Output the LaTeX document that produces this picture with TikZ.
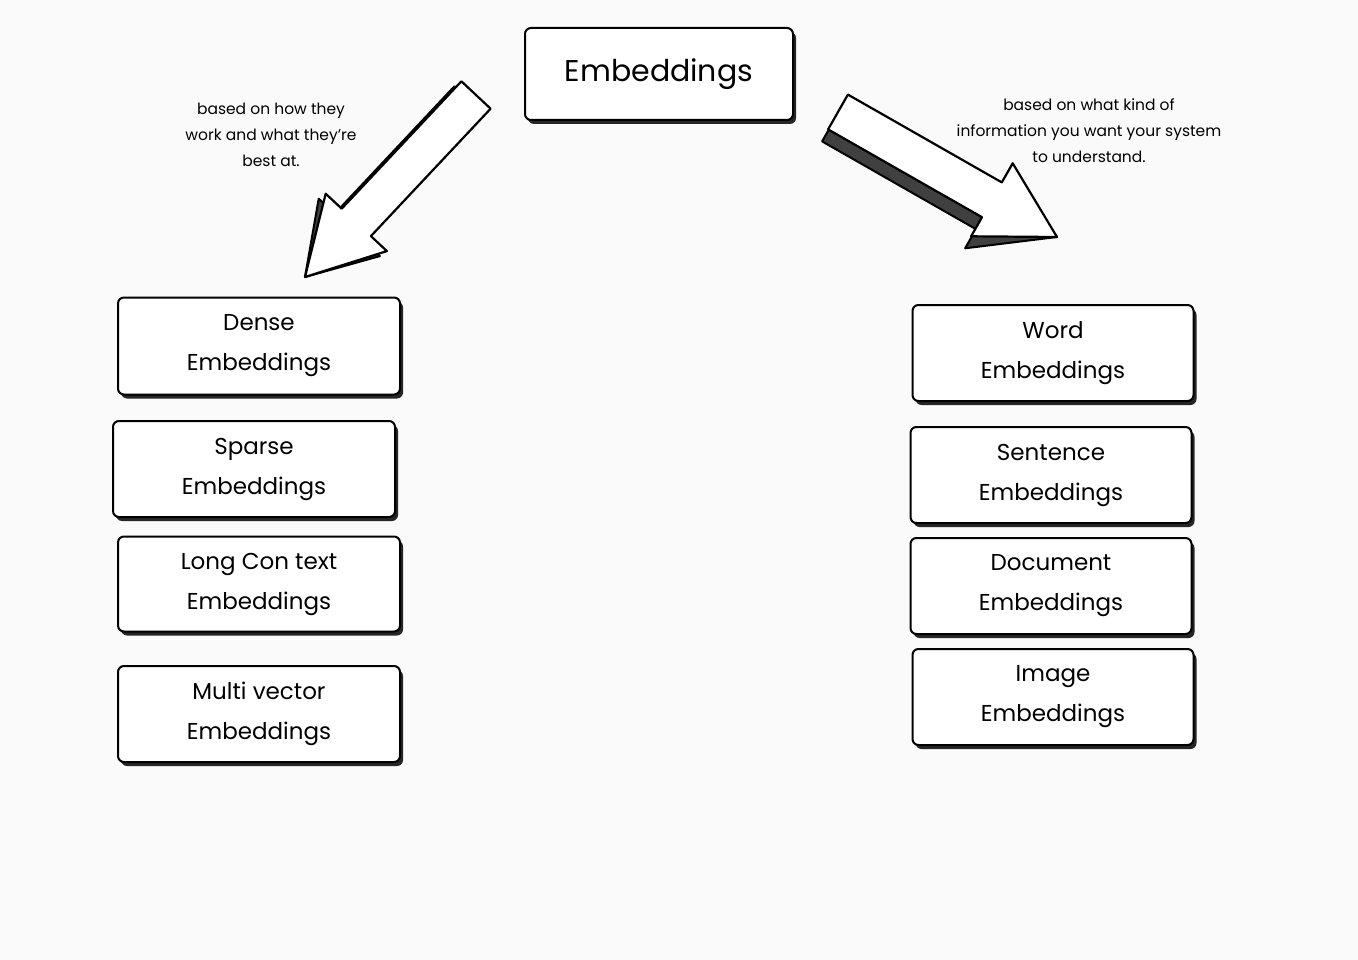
\documentclass[tikz,border=0pt]{standalone}
\usepackage{fontspec}
\setmainfont{Poppins}
\usetikzlibrary{shadows}
\begin{document}
\begin{tikzpicture}[x=1pt,y=-1pt,
  box/.style={draw=black,line width=2pt,rounded corners=6pt,fill=white,align=center,
    font=\fontsize{23}{40}\selectfont,
    drop shadow={shadow xshift=3pt,shadow yshift=-4pt,fill=black!85,opacity=1}},
  note/.style={align=center,font=\fontsize{15.5}{26}\selectfont},
  fat/.style={draw=black,line width=2.2pt,fill=white,line join=round},
  side/.style={draw=black,line width=2pt,fill=black!75,line join=round}]
\useasboundingbox[fill=black!2] (0,0) rectangle (1358,960);
\node[box,minimum width=268pt,minimum height=92pt,font=\fontsize{30}{36}\selectfont] (emb) at (659,74) {Embeddings};
\node[box,minimum width=282pt,minimum height=97pt] (dense) at (259,346) {Dense\\Embeddings};
\node[box,minimum width=282pt,minimum height=96pt] (sparse) at (254,469) {Sparse\\Embeddings};
\node[box,minimum width=282pt,minimum height=95pt] (long) at (259,584) {Long Con text\\Embeddings};
\node[box,minimum width=282pt,minimum height=96pt] (multi) at (259,714) {Multi vector\\Embeddings};
\node[box,minimum width=281pt,minimum height=96pt] (word) at (1053,353) {Word\\Embeddings};
\node[box,minimum width=281pt,minimum height=96pt] (sent) at (1051,475) {Sentence\\Embeddings};
\node[box,minimum width=281pt,minimum height=96pt] (doc) at (1051,586) {Document\\Embeddings};
\node[box,minimum width=281pt,minimum height=96pt] (img) at (1053,697) {Image\\Embeddings};
\coordinate (lp) at (305,277);
\coordinate (rp) at (1057,237);
\begin{scope}[shift={(-7,5)}]
\draw[side] (490.6,108.7) -- (370.9,236.1) -- (386.9,251.1) -- (lp) -- (325.7,193.7) -- (341.7,208.7) -- (461.4,81.3) -- cycle;
\end{scope}
\draw[fat] (490.6,108.7) -- (370.9,236.1) -- (386.9,251.1) -- (lp) -- (325.7,193.7) -- (341.7,208.7) -- (461.4,81.3) -- cycle;
\begin{scope}[shift={(-6,12)}]
\draw[side] (828.1,129.4) -- (982,217.2) -- (971.1,236.3) -- (rp) -- (1012.7,163.3) -- (1001.8,182.4) -- (847.9,94.6) -- cycle;
\end{scope}
\draw[fat] (828.1,129.4) -- (982,217.2) -- (971.1,236.3) -- (rp) -- (1012.7,163.3) -- (1001.8,182.4) -- (847.9,94.6) -- cycle;
\node[note] (ln) at (271,135) {based on how they\\work and what they’re\\best at.};
\node[note] (rn) at (1089,131) {based on what kind of\\information you want your system\\to understand.};
\end{tikzpicture}
\end{document}
